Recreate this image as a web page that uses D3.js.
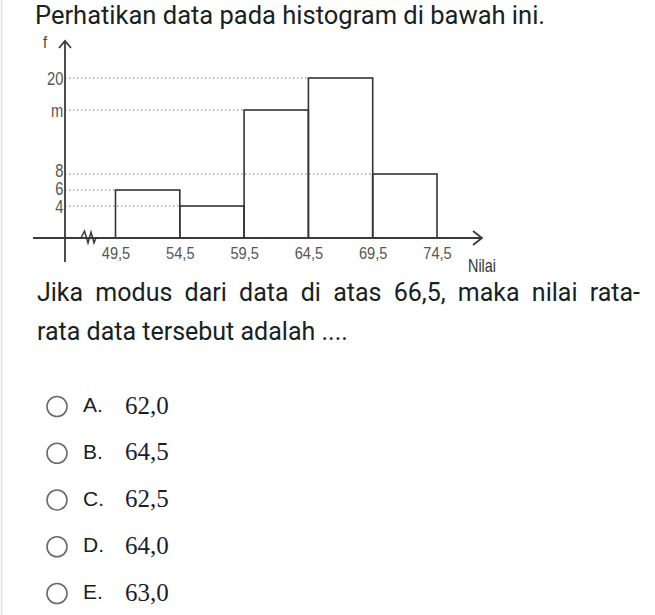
<!DOCTYPE html>
<html><head><meta charset="utf-8">
<script src="https://cdn.jsdelivr.net/npm/d3@7"></script>
<style>
html,body{margin:0;padding:0;background:#fff;}
svg{display:block;}
</style></head>
<body>
<svg id="c" width="655" height="615"></svg>
<script>
// ---- data ----
const classEdges = [49.5, 54.5, 59.5, 64.5, 69.5, 74.5];
const edgeLabels = ["49,5", "54,5", "59,5", "64,5", "69,5", "74,5"];
const frequencies = [6, 4, 16, 20, 8]; // "m" drawn at ~16
const yTickValues = [20, 16, 8, 6, 4];
const yTickLabels = ["20", "m", "8", "6", "4"];
const titleText = "Perhatikan data pada histogram di bawah ini.";
const questionLines = ["Jika modus dari data di atas 66,5, maka nilai rata-", "rata data tersebut adalah ...."];
const optionLetters = ["A.", "B.", "C.", "D.", "E."];
const optionValues = ["62,0", "64,5", "62,5", "64,0", "63,0"];

const svg = d3.select("#c");
const narrow = "'Liberation Sans',Arial,sans-serif";

// left border
svg.append("line").attr("x1",1.5).attr("x2",1.5).attr("y1",0).attr("y2",615)
  .attr("stroke","#e2e2e2").attr("stroke-width",1.5);

// title
svg.append("text").attr("x",35).attr("y",24).text(titleText)
  .attr("font-family","Roboto").attr("font-size",25.5).attr("fill","#172222");

// scales
const x = d3.scaleLinear().domain([49.5, 74.5]).range([115.5, 437]);
const y = d3.scaleLinear().domain([0, 20]).range([238, 78]);
const axisX = 65;

// dotted grid lines: from axis to left edge of bar with that frequency
const g = svg.append("g");
yTickValues.forEach(v => {
  const idx = frequencies.indexOf(v);
  const xEnd = x(classEdges[idx]);
  g.append("line").attr("x1",axisX).attr("x2",xEnd).attr("y1",y(v)).attr("y2",y(v))
    .attr("stroke","#777").attr("stroke-width",1).attr("stroke-dasharray","1.5,2.5");
});

// bars
const bars = frequencies.map((f,i)=>({x0:classEdges[i], x1:classEdges[i+1], f}));
g.selectAll("rect.bar").data(bars).join("rect").attr("class","bar")
  .attr("x",d=>x(d.x0)).attr("width",d=>x(d.x1)-x(d.x0))
  .attr("y",d=>y(d.f)).attr("height",d=>y(0)-y(d.f))
  .attr("fill","none").attr("stroke","#333").attr("stroke-width",1.6);

// x axis line with arrow
const axColor = "#3a3a3a";
svg.append("line").attr("x1",33).attr("x2",481).attr("y1",y(0)).attr("y2",y(0))
  .attr("stroke",axColor).attr("stroke-width",1.8);
svg.append("path").attr("d",`M${473},${y(0)-7} L${482},${y(0)} L${473},${y(0)+7}`)
  .attr("fill","none").attr("stroke",axColor).attr("stroke-width",1.8);
// break symbol
svg.append("path").attr("d",`M81,${y(0)} L84.5,${y(0)-7} L88,${y(0)+5} L91,${y(0)-6} L94,${y(0)+5} L96,${y(0)}`)
  .attr("fill","none").attr("stroke",axColor).attr("stroke-width",1.5);

// y axis line with arrow
svg.append("line").attr("x1",axisX).attr("x2",axisX).attr("y1",42).attr("y2",262)
  .attr("stroke",axColor).attr("stroke-width",1.8);
svg.append("path").attr("d",`M${axisX-6},${48} L${axisX},${41} L${axisX+6},${48}`)
  .attr("fill","none").attr("stroke",axColor).attr("stroke-width",1.8);

// x tick labels via d3 axis
const xa = svg.append("g").attr("transform",`translate(0,${y(0)})`)
  .call(d3.axisBottom(x).tickValues(classEdges).tickSize(0).tickFormat((d,i)=>edgeLabels[i]));
xa.select(".domain").remove();
xa.selectAll("text").attr("font-family",narrow).attr("font-size",17).attr("fill","#555")
  .attr("dy",0).attr("y",21).attr("transform","scale(0.86,1)");

// y tick labels via d3 axis
const yOffsets = {20:0, 16:0, 8:-4, 6:-2, 4:0.5};
const ya = svg.append("g").attr("transform",`translate(${axisX},0)`)
  .call(d3.axisLeft(y).tickValues(yTickValues).tickSize(0).tickFormat((d,i)=>yTickLabels[i]));
ya.select(".domain").remove();
ya.selectAll("text").attr("font-family",narrow).attr("font-size",17.5).attr("fill","#555")
  .attr("x",-2).attr("dy",null).attr("y",d=>6+yOffsets[d]).attr("transform","scale(0.84,1)");

// axis titles
svg.append("text").attr("transform","translate(45,48) scale(0.85,1)").text("f")
  .attr("font-family",narrow).attr("font-size",17).attr("fill","#444").attr("text-anchor","middle");
svg.append("text").attr("transform","translate(468,272) scale(0.8,1)").text("Nilai")
  .attr("font-family",narrow).attr("font-size",18).attr("fill","#333");

// question text
const qBase = [300.5, 340];
questionLines.forEach((t,i)=>{
  const tx = svg.append("text").attr("x",37).attr("y",qBase[i]).text(t)
    .attr("font-family","Roboto").attr("font-size",25).attr("fill","#172222");
  if(i===0){
    const w = tx.node().getComputedTextLength();
    const gaps = t.split(" ").length-1;
    const target = 640-37;
    if(w<target) tx.attr("word-spacing",(target-w)/gaps);
  }
});

// options
const oy = d3.scalePoint().domain(optionLetters).range([406.5, 593.5]);
const opt = svg.selectAll("g.opt").data(optionLetters).join("g").attr("class","opt")
  .attr("transform",d=>`translate(0,${oy(d)})`);
opt.append("circle").attr("cx",57).attr("cy",0).attr("r",10)
  .attr("fill","none").attr("stroke","#6a6a6a").attr("stroke-width",1.6);
opt.append("text").attr("x",83).attr("y",5.5).text(d=>d)
  .attr("font-family","'Liberation Sans',Arial,sans-serif").attr("font-size",21).attr("fill","#172222");
opt.append("text").attr("x",125).attr("y",7).text((d,i)=>optionValues[i])
  .attr("font-family","'Liberation Serif','Times New Roman',serif").attr("font-size",25).attr("fill","#1c1c30");
</script>
</body></html>
